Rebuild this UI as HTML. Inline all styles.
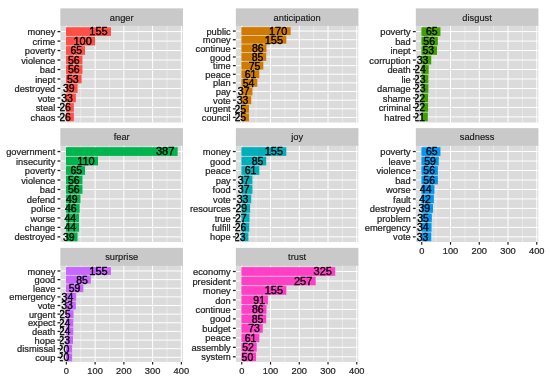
<!DOCTYPE html>
<html><head><meta charset="utf-8"><title>sentiment</title>
<style>html,body{margin:0;padding:0;background:#fff}svg{display:block}text{font-family:"Liberation Sans",Arial,sans-serif}.yl{font-size:9.3px;fill:#262626;stroke:#262626;stroke-width:0.24px;text-anchor:end}.xl{font-size:9.3px;fill:#262626;stroke:#262626;stroke-width:0.24px;text-anchor:middle}.st{font-size:9.3px;fill:#1a1a1a;stroke:#1a1a1a;stroke-width:0.16px;text-anchor:middle}.v{font-size:11px;fill:#000;stroke:#000;stroke-width:0.36px;text-anchor:end}.w{font-size:10.5px}</style></head><body>
<svg width="550" height="377" viewBox="0 0 550 377">
<rect width="550" height="377" fill="#fff"/>
<g>
<rect x="60.5" y="8.5" width="122.4" height="114.00" fill="#DBDBDB"/>
<rect x="60.5" y="8.5" width="122.4" height="17.35" fill="#C9C9C9"/>
<line x1="80.74" x2="80.74" y1="25.85" y2="122.5" stroke="#ebebeb" stroke-width="0.9"/>
<line x1="109.49" x2="109.49" y1="25.85" y2="122.5" stroke="#ebebeb" stroke-width="0.9"/>
<line x1="138.25" x2="138.25" y1="25.85" y2="122.5" stroke="#ebebeb" stroke-width="0.9"/>
<line x1="167.00" x2="167.00" y1="25.85" y2="122.5" stroke="#ebebeb" stroke-width="0.9"/>
<line x1="66.36" x2="66.36" y1="25.85" y2="122.5" stroke="#fff" stroke-width="1"/>
<line x1="95.12" x2="95.12" y1="25.85" y2="122.5" stroke="#fff" stroke-width="1"/>
<line x1="123.87" x2="123.87" y1="25.85" y2="122.5" stroke="#fff" stroke-width="1"/>
<line x1="152.62" x2="152.62" y1="25.85" y2="122.5" stroke="#fff" stroke-width="1"/>
<line x1="181.37" x2="181.37" y1="25.85" y2="122.5" stroke="#fff" stroke-width="1"/>
<line x1="60.5" x2="182.9" y1="31.59" y2="31.59" stroke="#fff" stroke-width="1"/>
<line x1="60.5" x2="182.9" y1="41.07" y2="41.07" stroke="#fff" stroke-width="1"/>
<line x1="60.5" x2="182.9" y1="50.55" y2="50.55" stroke="#fff" stroke-width="1"/>
<line x1="60.5" x2="182.9" y1="60.03" y2="60.03" stroke="#fff" stroke-width="1"/>
<line x1="60.5" x2="182.9" y1="69.51" y2="69.51" stroke="#fff" stroke-width="1"/>
<line x1="60.5" x2="182.9" y1="78.99" y2="78.99" stroke="#fff" stroke-width="1"/>
<line x1="60.5" x2="182.9" y1="88.47" y2="88.47" stroke="#fff" stroke-width="1"/>
<line x1="60.5" x2="182.9" y1="97.95" y2="97.95" stroke="#fff" stroke-width="1"/>
<line x1="60.5" x2="182.9" y1="107.43" y2="107.43" stroke="#fff" stroke-width="1"/>
<line x1="60.5" x2="182.9" y1="116.91" y2="116.91" stroke="#fff" stroke-width="1"/>
<rect x="65.96" y="27.24" width="44.97" height="8.70" fill="#FF5048"/>
<line x1="57.50" x2="60.30" y1="31.59" y2="31.59" stroke="#222" stroke-width="1.3"/>
<text class="yl" transform="translate(55.30 35.19) scale(1 1.03)">money</text>
<rect x="65.96" y="36.72" width="29.15" height="8.70" fill="#FF5048"/>
<line x1="57.50" x2="60.30" y1="41.07" y2="41.07" stroke="#222" stroke-width="1.3"/>
<text class="yl" transform="translate(55.30 44.67) scale(1 1.03)">crime</text>
<rect x="65.96" y="46.20" width="19.09" height="8.70" fill="#FF5048"/>
<line x1="57.50" x2="60.30" y1="50.55" y2="50.55" stroke="#222" stroke-width="1.3"/>
<text class="yl" transform="translate(55.30 54.15) scale(1 1.03)">poverty</text>
<rect x="65.96" y="55.68" width="16.50" height="8.70" fill="#FF5048"/>
<line x1="57.50" x2="60.30" y1="60.03" y2="60.03" stroke="#222" stroke-width="1.3"/>
<text class="yl" transform="translate(55.30 63.63) scale(1 1.03)">violence</text>
<rect x="65.96" y="65.16" width="16.50" height="8.70" fill="#FF5048"/>
<line x1="57.50" x2="60.30" y1="69.51" y2="69.51" stroke="#222" stroke-width="1.3"/>
<text class="yl" transform="translate(55.30 73.11) scale(1 1.03)">bad</text>
<rect x="65.96" y="74.64" width="15.64" height="8.70" fill="#FF5048"/>
<line x1="57.50" x2="60.30" y1="78.99" y2="78.99" stroke="#222" stroke-width="1.3"/>
<text class="yl" transform="translate(55.30 82.59) scale(1 1.03)">inept</text>
<rect x="65.96" y="84.12" width="11.61" height="8.70" fill="#FF5048"/>
<line x1="57.50" x2="60.30" y1="88.47" y2="88.47" stroke="#222" stroke-width="1.3"/>
<text class="yl" transform="translate(55.30 92.07) scale(1 1.03)">destroyed</text>
<rect x="65.96" y="93.60" width="9.89" height="8.70" fill="#FF5048"/>
<line x1="57.50" x2="60.30" y1="97.95" y2="97.95" stroke="#222" stroke-width="1.3"/>
<text class="yl" transform="translate(55.30 101.55) scale(1 1.03)">vote</text>
<rect x="65.96" y="103.08" width="7.88" height="8.70" fill="#FF5048"/>
<line x1="57.50" x2="60.30" y1="107.43" y2="107.43" stroke="#222" stroke-width="1.3"/>
<text class="yl" transform="translate(55.30 111.03) scale(1 1.03)">steal</text>
<rect x="65.96" y="112.56" width="7.88" height="8.70" fill="#FF5048"/>
<line x1="57.50" x2="60.30" y1="116.91" y2="116.91" stroke="#222" stroke-width="1.3"/>
<text class="yl" transform="translate(55.30 120.51) scale(1 1.03)">chaos</text>
<clipPath id="c0"><rect x="59.80" y="25.85" width="123.10" height="96.65"/></clipPath><g clip-path="url(#c0)">
<text class="v" transform="translate(107.63 35.49) scale(1 1.02)">155</text>
<text class="v" transform="translate(91.82 44.97) scale(1 1.02)">100</text>
<text class="v w" transform="translate(82.15 54.45) scale(1 1.06)">65</text>
<text class="v w" transform="translate(79.57 63.93) scale(1 1.06)">56</text>
<text class="v w" transform="translate(79.57 73.41) scale(1 1.06)">56</text>
<text class="v w" transform="translate(78.70 82.89) scale(1 1.06)">53</text>
<text class="v w" transform="translate(74.68 92.37) scale(1 1.06)">39</text>
<text class="v w" transform="translate(72.95 101.85) scale(1 1.06)">33</text>
<text class="v w" transform="translate(70.94 111.33) scale(1 1.06)">26</text>
<text class="v w" transform="translate(70.94 120.81) scale(1 1.06)">26</text>
</g>
<text class="st" transform="translate(121.70 20.57) scale(1 1.03)">anger</text>
</g>
<g>
<rect x="235.9" y="8.5" width="122.4" height="114.00" fill="#DBDBDB"/>
<rect x="235.9" y="8.5" width="122.4" height="17.35" fill="#C9C9C9"/>
<line x1="256.14" x2="256.14" y1="25.85" y2="122.5" stroke="#ebebeb" stroke-width="0.9"/>
<line x1="284.89" x2="284.89" y1="25.85" y2="122.5" stroke="#ebebeb" stroke-width="0.9"/>
<line x1="313.65" x2="313.65" y1="25.85" y2="122.5" stroke="#ebebeb" stroke-width="0.9"/>
<line x1="342.40" x2="342.40" y1="25.85" y2="122.5" stroke="#ebebeb" stroke-width="0.9"/>
<line x1="241.76" x2="241.76" y1="25.85" y2="122.5" stroke="#fff" stroke-width="1"/>
<line x1="270.52" x2="270.52" y1="25.85" y2="122.5" stroke="#fff" stroke-width="1"/>
<line x1="299.27" x2="299.27" y1="25.85" y2="122.5" stroke="#fff" stroke-width="1"/>
<line x1="328.02" x2="328.02" y1="25.85" y2="122.5" stroke="#fff" stroke-width="1"/>
<line x1="356.77" x2="356.77" y1="25.85" y2="122.5" stroke="#fff" stroke-width="1"/>
<line x1="235.9" x2="358.3" y1="31.08" y2="31.08" stroke="#fff" stroke-width="1"/>
<line x1="235.9" x2="358.3" y1="39.71" y2="39.71" stroke="#fff" stroke-width="1"/>
<line x1="235.9" x2="358.3" y1="48.35" y2="48.35" stroke="#fff" stroke-width="1"/>
<line x1="235.9" x2="358.3" y1="56.98" y2="56.98" stroke="#fff" stroke-width="1"/>
<line x1="235.9" x2="358.3" y1="65.62" y2="65.62" stroke="#fff" stroke-width="1"/>
<line x1="235.9" x2="358.3" y1="74.25" y2="74.25" stroke="#fff" stroke-width="1"/>
<line x1="235.9" x2="358.3" y1="82.88" y2="82.88" stroke="#fff" stroke-width="1"/>
<line x1="235.9" x2="358.3" y1="91.52" y2="91.52" stroke="#fff" stroke-width="1"/>
<line x1="235.9" x2="358.3" y1="100.15" y2="100.15" stroke="#fff" stroke-width="1"/>
<line x1="235.9" x2="358.3" y1="108.79" y2="108.79" stroke="#fff" stroke-width="1"/>
<line x1="235.9" x2="358.3" y1="117.42" y2="117.42" stroke="#fff" stroke-width="1"/>
<rect x="241.36" y="27.13" width="49.28" height="7.90" fill="#D07A00"/>
<line x1="232.90" x2="235.70" y1="31.08" y2="31.08" stroke="#222" stroke-width="1.3"/>
<text class="yl" transform="translate(230.70 34.68) scale(1 1.03)">public</text>
<rect x="241.36" y="35.76" width="44.97" height="7.90" fill="#D07A00"/>
<line x1="232.90" x2="235.70" y1="39.71" y2="39.71" stroke="#222" stroke-width="1.3"/>
<text class="yl" transform="translate(230.70 43.31) scale(1 1.03)">money</text>
<rect x="241.36" y="44.40" width="25.13" height="7.90" fill="#D07A00"/>
<line x1="232.90" x2="235.70" y1="48.35" y2="48.35" stroke="#222" stroke-width="1.3"/>
<text class="yl" transform="translate(230.70 51.95) scale(1 1.03)">continue</text>
<rect x="241.36" y="53.03" width="24.84" height="7.90" fill="#D07A00"/>
<line x1="232.90" x2="235.70" y1="56.98" y2="56.98" stroke="#222" stroke-width="1.3"/>
<text class="yl" transform="translate(230.70 60.58) scale(1 1.03)">good</text>
<rect x="241.36" y="61.67" width="21.96" height="7.90" fill="#D07A00"/>
<line x1="232.90" x2="235.70" y1="65.62" y2="65.62" stroke="#222" stroke-width="1.3"/>
<text class="yl" transform="translate(230.70 69.22) scale(1 1.03)">time</text>
<rect x="241.36" y="70.30" width="17.94" height="7.90" fill="#D07A00"/>
<line x1="232.90" x2="235.70" y1="74.25" y2="74.25" stroke="#222" stroke-width="1.3"/>
<text class="yl" transform="translate(230.70 77.85) scale(1 1.03)">peace</text>
<rect x="241.36" y="78.93" width="15.93" height="7.90" fill="#D07A00"/>
<line x1="232.90" x2="235.70" y1="82.88" y2="82.88" stroke="#222" stroke-width="1.3"/>
<text class="yl" transform="translate(230.70 86.48) scale(1 1.03)">plan</text>
<rect x="241.36" y="87.57" width="11.04" height="7.90" fill="#D07A00"/>
<line x1="232.90" x2="235.70" y1="91.52" y2="91.52" stroke="#222" stroke-width="1.3"/>
<text class="yl" transform="translate(230.70 95.12) scale(1 1.03)">pay</text>
<rect x="241.36" y="96.20" width="9.89" height="7.90" fill="#D07A00"/>
<line x1="232.90" x2="235.70" y1="100.15" y2="100.15" stroke="#222" stroke-width="1.3"/>
<text class="yl" transform="translate(230.70 103.75) scale(1 1.03)">vote</text>
<rect x="241.36" y="104.84" width="7.59" height="7.90" fill="#D07A00"/>
<line x1="232.90" x2="235.70" y1="108.79" y2="108.79" stroke="#222" stroke-width="1.3"/>
<text class="yl" transform="translate(230.70 112.39) scale(1 1.03)">urgent</text>
<rect x="241.36" y="113.47" width="7.59" height="7.90" fill="#D07A00"/>
<line x1="232.90" x2="235.70" y1="117.42" y2="117.42" stroke="#222" stroke-width="1.3"/>
<text class="yl" transform="translate(230.70 121.02) scale(1 1.03)">council</text>
<clipPath id="c1"><rect x="235.20" y="25.85" width="123.10" height="96.65"/></clipPath><g clip-path="url(#c1)">
<text class="v" transform="translate(287.34 34.98) scale(1 1.02)">170</text>
<text class="v" transform="translate(283.03 43.61) scale(1 1.02)">155</text>
<text class="v w" transform="translate(263.59 52.25) scale(1 1.06)">86</text>
<text class="v w" transform="translate(263.30 60.88) scale(1 1.06)">85</text>
<text class="v w" transform="translate(260.43 69.52) scale(1 1.06)">75</text>
<text class="v w" transform="translate(256.40 78.15) scale(1 1.06)">61</text>
<text class="v w" transform="translate(254.39 86.78) scale(1 1.06)">54</text>
<text class="v w" transform="translate(249.50 95.42) scale(1 1.06)">37</text>
<text class="v w" transform="translate(248.35 104.05) scale(1 1.06)">33</text>
<text class="v w" transform="translate(246.05 112.69) scale(1 1.06)">25</text>
<text class="v w" transform="translate(246.05 121.32) scale(1 1.06)">25</text>
</g>
<text class="st" transform="translate(297.10 20.57) scale(1 1.03)">anticipation</text>
</g>
<g>
<rect x="415.9" y="8.5" width="122.4" height="114.00" fill="#DBDBDB"/>
<rect x="415.9" y="8.5" width="122.4" height="17.35" fill="#C9C9C9"/>
<line x1="436.14" x2="436.14" y1="25.85" y2="122.5" stroke="#ebebeb" stroke-width="0.9"/>
<line x1="464.89" x2="464.89" y1="25.85" y2="122.5" stroke="#ebebeb" stroke-width="0.9"/>
<line x1="493.65" x2="493.65" y1="25.85" y2="122.5" stroke="#ebebeb" stroke-width="0.9"/>
<line x1="522.40" x2="522.40" y1="25.85" y2="122.5" stroke="#ebebeb" stroke-width="0.9"/>
<line x1="421.76" x2="421.76" y1="25.85" y2="122.5" stroke="#fff" stroke-width="1"/>
<line x1="450.52" x2="450.52" y1="25.85" y2="122.5" stroke="#fff" stroke-width="1"/>
<line x1="479.27" x2="479.27" y1="25.85" y2="122.5" stroke="#fff" stroke-width="1"/>
<line x1="508.02" x2="508.02" y1="25.85" y2="122.5" stroke="#fff" stroke-width="1"/>
<line x1="536.77" x2="536.77" y1="25.85" y2="122.5" stroke="#fff" stroke-width="1"/>
<line x1="415.9" x2="538.3" y1="31.59" y2="31.59" stroke="#fff" stroke-width="1"/>
<line x1="415.9" x2="538.3" y1="41.07" y2="41.07" stroke="#fff" stroke-width="1"/>
<line x1="415.9" x2="538.3" y1="50.55" y2="50.55" stroke="#fff" stroke-width="1"/>
<line x1="415.9" x2="538.3" y1="60.03" y2="60.03" stroke="#fff" stroke-width="1"/>
<line x1="415.9" x2="538.3" y1="69.51" y2="69.51" stroke="#fff" stroke-width="1"/>
<line x1="415.9" x2="538.3" y1="78.99" y2="78.99" stroke="#fff" stroke-width="1"/>
<line x1="415.9" x2="538.3" y1="88.47" y2="88.47" stroke="#fff" stroke-width="1"/>
<line x1="415.9" x2="538.3" y1="97.95" y2="97.95" stroke="#fff" stroke-width="1"/>
<line x1="415.9" x2="538.3" y1="107.43" y2="107.43" stroke="#fff" stroke-width="1"/>
<line x1="415.9" x2="538.3" y1="116.91" y2="116.91" stroke="#fff" stroke-width="1"/>
<rect x="421.36" y="27.24" width="19.09" height="8.70" fill="#3FA000"/>
<line x1="412.90" x2="415.70" y1="31.59" y2="31.59" stroke="#222" stroke-width="1.3"/>
<text class="yl" transform="translate(410.70 35.19) scale(1 1.03)">poverty</text>
<rect x="421.36" y="36.72" width="16.50" height="8.70" fill="#3FA000"/>
<line x1="412.90" x2="415.70" y1="41.07" y2="41.07" stroke="#222" stroke-width="1.3"/>
<text class="yl" transform="translate(410.70 44.67) scale(1 1.03)">bad</text>
<rect x="421.36" y="46.20" width="15.64" height="8.70" fill="#3FA000"/>
<line x1="412.90" x2="415.70" y1="50.55" y2="50.55" stroke="#222" stroke-width="1.3"/>
<text class="yl" transform="translate(410.70 54.15) scale(1 1.03)">inept</text>
<rect x="421.36" y="55.68" width="9.89" height="8.70" fill="#3FA000"/>
<line x1="412.90" x2="415.70" y1="60.03" y2="60.03" stroke="#222" stroke-width="1.3"/>
<text class="yl" transform="translate(410.70 63.63) scale(1 1.03)">corruption</text>
<rect x="421.36" y="65.16" width="7.30" height="8.70" fill="#3FA000"/>
<line x1="412.90" x2="415.70" y1="69.51" y2="69.51" stroke="#222" stroke-width="1.3"/>
<text class="yl" transform="translate(410.70 73.11) scale(1 1.03)">death</text>
<rect x="421.36" y="74.64" width="7.01" height="8.70" fill="#3FA000"/>
<line x1="412.90" x2="415.70" y1="78.99" y2="78.99" stroke="#222" stroke-width="1.3"/>
<text class="yl" transform="translate(410.70 82.59) scale(1 1.03)">lie</text>
<rect x="421.36" y="84.12" width="7.01" height="8.70" fill="#3FA000"/>
<line x1="412.90" x2="415.70" y1="88.47" y2="88.47" stroke="#222" stroke-width="1.3"/>
<text class="yl" transform="translate(410.70 92.07) scale(1 1.03)">damage</text>
<rect x="421.36" y="93.60" width="6.73" height="8.70" fill="#3FA000"/>
<line x1="412.90" x2="415.70" y1="97.95" y2="97.95" stroke="#222" stroke-width="1.3"/>
<text class="yl" transform="translate(410.70 101.55) scale(1 1.03)">shame</text>
<rect x="421.36" y="103.08" width="6.73" height="8.70" fill="#3FA000"/>
<line x1="412.90" x2="415.70" y1="107.43" y2="107.43" stroke="#222" stroke-width="1.3"/>
<text class="yl" transform="translate(410.70 111.03) scale(1 1.03)">criminal</text>
<rect x="421.36" y="112.56" width="6.44" height="8.70" fill="#3FA000"/>
<line x1="412.90" x2="415.70" y1="116.91" y2="116.91" stroke="#222" stroke-width="1.3"/>
<text class="yl" transform="translate(410.70 120.51) scale(1 1.03)">hatred</text>
<clipPath id="c2"><rect x="415.20" y="25.85" width="123.10" height="96.65"/></clipPath><g clip-path="url(#c2)">
<text class="v w" transform="translate(437.55 35.49) scale(1 1.06)">65</text>
<text class="v w" transform="translate(434.97 44.97) scale(1 1.06)">56</text>
<text class="v w" transform="translate(434.10 54.45) scale(1 1.06)">53</text>
<text class="v w" transform="translate(428.35 63.93) scale(1 1.06)">33</text>
<text class="v w" transform="translate(425.76 73.41) scale(1 1.06)">24</text>
<text class="v w" transform="translate(425.48 82.89) scale(1 1.06)">23</text>
<text class="v w" transform="translate(425.48 92.37) scale(1 1.06)">23</text>
<text class="v w" transform="translate(425.19 101.85) scale(1 1.06)">22</text>
<text class="v w" transform="translate(425.19 111.33) scale(1 1.06)">22</text>
<text class="v w" transform="translate(424.90 120.81) scale(1 1.06)">21</text>
</g>
<text class="st" transform="translate(477.10 20.57) scale(1 1.03)">disgust</text>
</g>
<g>
<rect x="60.5" y="128.2" width="122.4" height="113.80" fill="#DBDBDB"/>
<rect x="60.5" y="128.2" width="122.4" height="17.60" fill="#C9C9C9"/>
<line x1="80.74" x2="80.74" y1="145.8" y2="242.0" stroke="#ebebeb" stroke-width="0.9"/>
<line x1="109.49" x2="109.49" y1="145.8" y2="242.0" stroke="#ebebeb" stroke-width="0.9"/>
<line x1="138.25" x2="138.25" y1="145.8" y2="242.0" stroke="#ebebeb" stroke-width="0.9"/>
<line x1="167.00" x2="167.00" y1="145.8" y2="242.0" stroke="#ebebeb" stroke-width="0.9"/>
<line x1="66.36" x2="66.36" y1="145.8" y2="242.0" stroke="#fff" stroke-width="1"/>
<line x1="95.12" x2="95.12" y1="145.8" y2="242.0" stroke="#fff" stroke-width="1"/>
<line x1="123.87" x2="123.87" y1="145.8" y2="242.0" stroke="#fff" stroke-width="1"/>
<line x1="152.62" x2="152.62" y1="145.8" y2="242.0" stroke="#fff" stroke-width="1"/>
<line x1="181.37" x2="181.37" y1="145.8" y2="242.0" stroke="#fff" stroke-width="1"/>
<line x1="60.5" x2="182.9" y1="151.54" y2="151.54" stroke="#fff" stroke-width="1"/>
<line x1="60.5" x2="182.9" y1="161.02" y2="161.02" stroke="#fff" stroke-width="1"/>
<line x1="60.5" x2="182.9" y1="170.50" y2="170.50" stroke="#fff" stroke-width="1"/>
<line x1="60.5" x2="182.9" y1="179.98" y2="179.98" stroke="#fff" stroke-width="1"/>
<line x1="60.5" x2="182.9" y1="189.46" y2="189.46" stroke="#fff" stroke-width="1"/>
<line x1="60.5" x2="182.9" y1="198.94" y2="198.94" stroke="#fff" stroke-width="1"/>
<line x1="60.5" x2="182.9" y1="208.42" y2="208.42" stroke="#fff" stroke-width="1"/>
<line x1="60.5" x2="182.9" y1="217.90" y2="217.90" stroke="#fff" stroke-width="1"/>
<line x1="60.5" x2="182.9" y1="227.38" y2="227.38" stroke="#fff" stroke-width="1"/>
<line x1="60.5" x2="182.9" y1="236.86" y2="236.86" stroke="#fff" stroke-width="1"/>
<rect x="65.96" y="147.19" width="111.67" height="8.70" fill="#00B44E"/>
<line x1="57.50" x2="60.30" y1="151.54" y2="151.54" stroke="#222" stroke-width="1.3"/>
<text class="yl" transform="translate(55.30 155.14) scale(1 1.03)">government</text>
<rect x="65.96" y="156.67" width="32.03" height="8.70" fill="#00B44E"/>
<line x1="57.50" x2="60.30" y1="161.02" y2="161.02" stroke="#222" stroke-width="1.3"/>
<text class="yl" transform="translate(55.30 164.62) scale(1 1.03)">insecurity</text>
<rect x="65.96" y="166.15" width="19.09" height="8.70" fill="#00B44E"/>
<line x1="57.50" x2="60.30" y1="170.50" y2="170.50" stroke="#222" stroke-width="1.3"/>
<text class="yl" transform="translate(55.30 174.10) scale(1 1.03)">poverty</text>
<rect x="65.96" y="175.63" width="16.50" height="8.70" fill="#00B44E"/>
<line x1="57.50" x2="60.30" y1="179.98" y2="179.98" stroke="#222" stroke-width="1.3"/>
<text class="yl" transform="translate(55.30 183.58) scale(1 1.03)">violence</text>
<rect x="65.96" y="185.11" width="16.50" height="8.70" fill="#00B44E"/>
<line x1="57.50" x2="60.30" y1="189.46" y2="189.46" stroke="#222" stroke-width="1.3"/>
<text class="yl" transform="translate(55.30 193.06) scale(1 1.03)">bad</text>
<rect x="65.96" y="194.59" width="14.49" height="8.70" fill="#00B44E"/>
<line x1="57.50" x2="60.30" y1="198.94" y2="198.94" stroke="#222" stroke-width="1.3"/>
<text class="yl" transform="translate(55.30 202.54) scale(1 1.03)">defend</text>
<rect x="65.96" y="204.07" width="13.63" height="8.70" fill="#00B44E"/>
<line x1="57.50" x2="60.30" y1="208.42" y2="208.42" stroke="#222" stroke-width="1.3"/>
<text class="yl" transform="translate(55.30 212.02) scale(1 1.03)">police</text>
<rect x="65.96" y="213.55" width="13.05" height="8.70" fill="#00B44E"/>
<line x1="57.50" x2="60.30" y1="217.90" y2="217.90" stroke="#222" stroke-width="1.3"/>
<text class="yl" transform="translate(55.30 221.50) scale(1 1.03)">worse</text>
<rect x="65.96" y="223.03" width="13.05" height="8.70" fill="#00B44E"/>
<line x1="57.50" x2="60.30" y1="227.38" y2="227.38" stroke="#222" stroke-width="1.3"/>
<text class="yl" transform="translate(55.30 230.98) scale(1 1.03)">change</text>
<rect x="65.96" y="232.51" width="11.61" height="8.70" fill="#00B44E"/>
<line x1="57.50" x2="60.30" y1="236.86" y2="236.86" stroke="#222" stroke-width="1.3"/>
<text class="yl" transform="translate(55.30 240.46) scale(1 1.03)">destroyed</text>
<clipPath id="c3"><rect x="59.80" y="145.8" width="123.10" height="96.20"/></clipPath><g clip-path="url(#c3)">
<text class="v" transform="translate(174.34 155.44) scale(1 1.02)">387</text>
<text class="v" transform="translate(94.69 164.92) scale(1 1.02)">110</text>
<text class="v w" transform="translate(82.15 174.40) scale(1 1.06)">65</text>
<text class="v w" transform="translate(79.57 183.88) scale(1 1.06)">56</text>
<text class="v w" transform="translate(79.57 193.36) scale(1 1.06)">56</text>
<text class="v w" transform="translate(77.55 202.84) scale(1 1.06)">49</text>
<text class="v w" transform="translate(76.69 212.32) scale(1 1.06)">46</text>
<text class="v w" transform="translate(76.11 221.80) scale(1 1.06)">44</text>
<text class="v w" transform="translate(76.11 231.28) scale(1 1.06)">44</text>
<text class="v w" transform="translate(74.68 240.76) scale(1 1.06)">39</text>
</g>
<text class="st" transform="translate(121.70 140.40) scale(1 1.03)">fear</text>
</g>
<g>
<rect x="235.9" y="128.2" width="122.4" height="113.80" fill="#DBDBDB"/>
<rect x="235.9" y="128.2" width="122.4" height="17.60" fill="#C9C9C9"/>
<line x1="256.14" x2="256.14" y1="145.8" y2="242.0" stroke="#ebebeb" stroke-width="0.9"/>
<line x1="284.89" x2="284.89" y1="145.8" y2="242.0" stroke="#ebebeb" stroke-width="0.9"/>
<line x1="313.65" x2="313.65" y1="145.8" y2="242.0" stroke="#ebebeb" stroke-width="0.9"/>
<line x1="342.40" x2="342.40" y1="145.8" y2="242.0" stroke="#ebebeb" stroke-width="0.9"/>
<line x1="241.76" x2="241.76" y1="145.8" y2="242.0" stroke="#fff" stroke-width="1"/>
<line x1="270.52" x2="270.52" y1="145.8" y2="242.0" stroke="#fff" stroke-width="1"/>
<line x1="299.27" x2="299.27" y1="145.8" y2="242.0" stroke="#fff" stroke-width="1"/>
<line x1="328.02" x2="328.02" y1="145.8" y2="242.0" stroke="#fff" stroke-width="1"/>
<line x1="356.77" x2="356.77" y1="145.8" y2="242.0" stroke="#fff" stroke-width="1"/>
<line x1="235.9" x2="358.3" y1="151.54" y2="151.54" stroke="#fff" stroke-width="1"/>
<line x1="235.9" x2="358.3" y1="161.02" y2="161.02" stroke="#fff" stroke-width="1"/>
<line x1="235.9" x2="358.3" y1="170.50" y2="170.50" stroke="#fff" stroke-width="1"/>
<line x1="235.9" x2="358.3" y1="179.98" y2="179.98" stroke="#fff" stroke-width="1"/>
<line x1="235.9" x2="358.3" y1="189.46" y2="189.46" stroke="#fff" stroke-width="1"/>
<line x1="235.9" x2="358.3" y1="198.94" y2="198.94" stroke="#fff" stroke-width="1"/>
<line x1="235.9" x2="358.3" y1="208.42" y2="208.42" stroke="#fff" stroke-width="1"/>
<line x1="235.9" x2="358.3" y1="217.90" y2="217.90" stroke="#fff" stroke-width="1"/>
<line x1="235.9" x2="358.3" y1="227.38" y2="227.38" stroke="#fff" stroke-width="1"/>
<line x1="235.9" x2="358.3" y1="236.86" y2="236.86" stroke="#fff" stroke-width="1"/>
<rect x="241.36" y="147.19" width="44.97" height="8.70" fill="#00AFB9"/>
<line x1="232.90" x2="235.70" y1="151.54" y2="151.54" stroke="#222" stroke-width="1.3"/>
<text class="yl" transform="translate(230.70 155.14) scale(1 1.03)">money</text>
<rect x="241.36" y="156.67" width="24.84" height="8.70" fill="#00AFB9"/>
<line x1="232.90" x2="235.70" y1="161.02" y2="161.02" stroke="#222" stroke-width="1.3"/>
<text class="yl" transform="translate(230.70 164.62) scale(1 1.03)">good</text>
<rect x="241.36" y="166.15" width="17.94" height="8.70" fill="#00AFB9"/>
<line x1="232.90" x2="235.70" y1="170.50" y2="170.50" stroke="#222" stroke-width="1.3"/>
<text class="yl" transform="translate(230.70 174.10) scale(1 1.03)">peace</text>
<rect x="241.36" y="175.63" width="11.04" height="8.70" fill="#00AFB9"/>
<line x1="232.90" x2="235.70" y1="179.98" y2="179.98" stroke="#222" stroke-width="1.3"/>
<text class="yl" transform="translate(230.70 183.58) scale(1 1.03)">pay</text>
<rect x="241.36" y="185.11" width="11.04" height="8.70" fill="#00AFB9"/>
<line x1="232.90" x2="235.70" y1="189.46" y2="189.46" stroke="#222" stroke-width="1.3"/>
<text class="yl" transform="translate(230.70 193.06) scale(1 1.03)">food</text>
<rect x="241.36" y="194.59" width="9.89" height="8.70" fill="#00AFB9"/>
<line x1="232.90" x2="235.70" y1="198.94" y2="198.94" stroke="#222" stroke-width="1.3"/>
<text class="yl" transform="translate(230.70 202.54) scale(1 1.03)">vote</text>
<rect x="241.36" y="204.07" width="8.74" height="8.70" fill="#00AFB9"/>
<line x1="232.90" x2="235.70" y1="208.42" y2="208.42" stroke="#222" stroke-width="1.3"/>
<text class="yl" transform="translate(230.70 212.02) scale(1 1.03)">resources</text>
<rect x="241.36" y="213.55" width="8.16" height="8.70" fill="#00AFB9"/>
<line x1="232.90" x2="235.70" y1="217.90" y2="217.90" stroke="#222" stroke-width="1.3"/>
<text class="yl" transform="translate(230.70 221.50) scale(1 1.03)">true</text>
<rect x="241.36" y="223.03" width="7.88" height="8.70" fill="#00AFB9"/>
<line x1="232.90" x2="235.70" y1="227.38" y2="227.38" stroke="#222" stroke-width="1.3"/>
<text class="yl" transform="translate(230.70 230.98) scale(1 1.03)">fulfill</text>
<rect x="241.36" y="232.51" width="7.01" height="8.70" fill="#00AFB9"/>
<line x1="232.90" x2="235.70" y1="236.86" y2="236.86" stroke="#222" stroke-width="1.3"/>
<text class="yl" transform="translate(230.70 240.46) scale(1 1.03)">hope</text>
<clipPath id="c4"><rect x="235.20" y="145.8" width="123.10" height="96.20"/></clipPath><g clip-path="url(#c4)">
<text class="v" transform="translate(283.03 155.44) scale(1 1.02)">155</text>
<text class="v w" transform="translate(263.30 164.92) scale(1 1.06)">85</text>
<text class="v w" transform="translate(256.40 174.40) scale(1 1.06)">61</text>
<text class="v w" transform="translate(249.50 183.88) scale(1 1.06)">37</text>
<text class="v w" transform="translate(249.50 193.36) scale(1 1.06)">37</text>
<text class="v w" transform="translate(248.35 202.84) scale(1 1.06)">33</text>
<text class="v w" transform="translate(247.20 212.32) scale(1 1.06)">29</text>
<text class="v w" transform="translate(246.63 221.80) scale(1 1.06)">27</text>
<text class="v w" transform="translate(246.34 231.28) scale(1 1.06)">26</text>
<text class="v w" transform="translate(245.48 240.76) scale(1 1.06)">23</text>
</g>
<text class="st" transform="translate(297.10 140.40) scale(1 1.03)">joy</text>
</g>
<g>
<rect x="415.9" y="128.2" width="122.4" height="113.80" fill="#DBDBDB"/>
<rect x="415.9" y="128.2" width="122.4" height="17.60" fill="#C9C9C9"/>
<line x1="436.14" x2="436.14" y1="145.8" y2="242.0" stroke="#ebebeb" stroke-width="0.9"/>
<line x1="464.89" x2="464.89" y1="145.8" y2="242.0" stroke="#ebebeb" stroke-width="0.9"/>
<line x1="493.65" x2="493.65" y1="145.8" y2="242.0" stroke="#ebebeb" stroke-width="0.9"/>
<line x1="522.40" x2="522.40" y1="145.8" y2="242.0" stroke="#ebebeb" stroke-width="0.9"/>
<line x1="421.76" x2="421.76" y1="145.8" y2="242.0" stroke="#fff" stroke-width="1"/>
<line x1="450.52" x2="450.52" y1="145.8" y2="242.0" stroke="#fff" stroke-width="1"/>
<line x1="479.27" x2="479.27" y1="145.8" y2="242.0" stroke="#fff" stroke-width="1"/>
<line x1="508.02" x2="508.02" y1="145.8" y2="242.0" stroke="#fff" stroke-width="1"/>
<line x1="536.77" x2="536.77" y1="145.8" y2="242.0" stroke="#fff" stroke-width="1"/>
<line x1="415.9" x2="538.3" y1="151.54" y2="151.54" stroke="#fff" stroke-width="1"/>
<line x1="415.9" x2="538.3" y1="161.02" y2="161.02" stroke="#fff" stroke-width="1"/>
<line x1="415.9" x2="538.3" y1="170.50" y2="170.50" stroke="#fff" stroke-width="1"/>
<line x1="415.9" x2="538.3" y1="179.98" y2="179.98" stroke="#fff" stroke-width="1"/>
<line x1="415.9" x2="538.3" y1="189.46" y2="189.46" stroke="#fff" stroke-width="1"/>
<line x1="415.9" x2="538.3" y1="198.94" y2="198.94" stroke="#fff" stroke-width="1"/>
<line x1="415.9" x2="538.3" y1="208.42" y2="208.42" stroke="#fff" stroke-width="1"/>
<line x1="415.9" x2="538.3" y1="217.90" y2="217.90" stroke="#fff" stroke-width="1"/>
<line x1="415.9" x2="538.3" y1="227.38" y2="227.38" stroke="#fff" stroke-width="1"/>
<line x1="415.9" x2="538.3" y1="236.86" y2="236.86" stroke="#fff" stroke-width="1"/>
<rect x="421.36" y="147.19" width="19.09" height="8.70" fill="#0098F0"/>
<line x1="412.90" x2="415.70" y1="151.54" y2="151.54" stroke="#222" stroke-width="1.3"/>
<text class="yl" transform="translate(410.70 155.14) scale(1 1.03)">poverty</text>
<rect x="421.36" y="156.67" width="17.36" height="8.70" fill="#0098F0"/>
<line x1="412.90" x2="415.70" y1="161.02" y2="161.02" stroke="#222" stroke-width="1.3"/>
<text class="yl" transform="translate(410.70 164.62) scale(1 1.03)">leave</text>
<rect x="421.36" y="166.15" width="16.50" height="8.70" fill="#0098F0"/>
<line x1="412.90" x2="415.70" y1="170.50" y2="170.50" stroke="#222" stroke-width="1.3"/>
<text class="yl" transform="translate(410.70 174.10) scale(1 1.03)">violence</text>
<rect x="421.36" y="175.63" width="16.50" height="8.70" fill="#0098F0"/>
<line x1="412.90" x2="415.70" y1="179.98" y2="179.98" stroke="#222" stroke-width="1.3"/>
<text class="yl" transform="translate(410.70 183.58) scale(1 1.03)">bad</text>
<rect x="421.36" y="185.11" width="13.05" height="8.70" fill="#0098F0"/>
<line x1="412.90" x2="415.70" y1="189.46" y2="189.46" stroke="#222" stroke-width="1.3"/>
<text class="yl" transform="translate(410.70 193.06) scale(1 1.03)">worse</text>
<rect x="421.36" y="194.59" width="12.48" height="8.70" fill="#0098F0"/>
<line x1="412.90" x2="415.70" y1="198.94" y2="198.94" stroke="#222" stroke-width="1.3"/>
<text class="yl" transform="translate(410.70 202.54) scale(1 1.03)">fault</text>
<rect x="421.36" y="204.07" width="11.61" height="8.70" fill="#0098F0"/>
<line x1="412.90" x2="415.70" y1="208.42" y2="208.42" stroke="#222" stroke-width="1.3"/>
<text class="yl" transform="translate(410.70 212.02) scale(1 1.03)">destroyed</text>
<rect x="421.36" y="213.55" width="10.46" height="8.70" fill="#0098F0"/>
<line x1="412.90" x2="415.70" y1="217.90" y2="217.90" stroke="#222" stroke-width="1.3"/>
<text class="yl" transform="translate(410.70 221.50) scale(1 1.03)">problem</text>
<rect x="421.36" y="223.03" width="10.18" height="8.70" fill="#0098F0"/>
<line x1="412.90" x2="415.70" y1="227.38" y2="227.38" stroke="#222" stroke-width="1.3"/>
<text class="yl" transform="translate(410.70 230.98) scale(1 1.03)">emergency</text>
<rect x="421.36" y="232.51" width="9.89" height="8.70" fill="#0098F0"/>
<line x1="412.90" x2="415.70" y1="236.86" y2="236.86" stroke="#222" stroke-width="1.3"/>
<text class="yl" transform="translate(410.70 240.46) scale(1 1.03)">vote</text>
<clipPath id="c5"><rect x="415.20" y="145.8" width="123.10" height="96.20"/></clipPath><g clip-path="url(#c5)">
<text class="v w" transform="translate(437.55 155.44) scale(1 1.06)">65</text>
<text class="v w" transform="translate(435.83 164.92) scale(1 1.06)">59</text>
<text class="v w" transform="translate(434.97 174.40) scale(1 1.06)">56</text>
<text class="v w" transform="translate(434.97 183.88) scale(1 1.06)">56</text>
<text class="v w" transform="translate(431.51 193.36) scale(1 1.06)">44</text>
<text class="v w" transform="translate(430.94 202.84) scale(1 1.06)">42</text>
<text class="v w" transform="translate(430.08 212.32) scale(1 1.06)">39</text>
<text class="v w" transform="translate(428.93 221.80) scale(1 1.06)">35</text>
<text class="v w" transform="translate(428.64 231.28) scale(1 1.06)">34</text>
<text class="v w" transform="translate(428.35 240.76) scale(1 1.06)">33</text>
</g>
<text class="st" transform="translate(477.10 140.40) scale(1 1.03)">sadness</text>
<line x1="421.76" x2="421.76" y1="242.0" y2="244.7" stroke="#222" stroke-width="1.2"/>
<text class="xl" transform="translate(421.76 253.80) scale(1 1.03)">0</text>
<line x1="450.52" x2="450.52" y1="242.0" y2="244.7" stroke="#222" stroke-width="1.2"/>
<text class="xl" transform="translate(450.52 253.80) scale(1 1.03)">100</text>
<line x1="479.27" x2="479.27" y1="242.0" y2="244.7" stroke="#222" stroke-width="1.2"/>
<text class="xl" transform="translate(479.27 253.80) scale(1 1.03)">200</text>
<line x1="508.02" x2="508.02" y1="242.0" y2="244.7" stroke="#222" stroke-width="1.2"/>
<text class="xl" transform="translate(508.02 253.80) scale(1 1.03)">300</text>
<line x1="536.77" x2="536.77" y1="242.0" y2="244.7" stroke="#222" stroke-width="1.2"/>
<text class="xl" transform="translate(536.77 253.80) scale(1 1.03)">400</text>
</g>
<g>
<rect x="60.5" y="247.9" width="122.4" height="114.00" fill="#DBDBDB"/>
<rect x="60.5" y="247.9" width="122.4" height="17.85" fill="#C9C9C9"/>
<line x1="80.74" x2="80.74" y1="265.75" y2="361.9" stroke="#ebebeb" stroke-width="0.9"/>
<line x1="109.49" x2="109.49" y1="265.75" y2="361.9" stroke="#ebebeb" stroke-width="0.9"/>
<line x1="138.25" x2="138.25" y1="265.75" y2="361.9" stroke="#ebebeb" stroke-width="0.9"/>
<line x1="167.00" x2="167.00" y1="265.75" y2="361.9" stroke="#ebebeb" stroke-width="0.9"/>
<line x1="66.36" x2="66.36" y1="265.75" y2="361.9" stroke="#fff" stroke-width="1"/>
<line x1="95.12" x2="95.12" y1="265.75" y2="361.9" stroke="#fff" stroke-width="1"/>
<line x1="123.87" x2="123.87" y1="265.75" y2="361.9" stroke="#fff" stroke-width="1"/>
<line x1="152.62" x2="152.62" y1="265.75" y2="361.9" stroke="#fff" stroke-width="1"/>
<line x1="181.37" x2="181.37" y1="265.75" y2="361.9" stroke="#fff" stroke-width="1"/>
<line x1="60.5" x2="182.9" y1="270.98" y2="270.98" stroke="#fff" stroke-width="1"/>
<line x1="60.5" x2="182.9" y1="279.61" y2="279.61" stroke="#fff" stroke-width="1"/>
<line x1="60.5" x2="182.9" y1="288.25" y2="288.25" stroke="#fff" stroke-width="1"/>
<line x1="60.5" x2="182.9" y1="296.88" y2="296.88" stroke="#fff" stroke-width="1"/>
<line x1="60.5" x2="182.9" y1="305.52" y2="305.52" stroke="#fff" stroke-width="1"/>
<line x1="60.5" x2="182.9" y1="314.15" y2="314.15" stroke="#fff" stroke-width="1"/>
<line x1="60.5" x2="182.9" y1="322.78" y2="322.78" stroke="#fff" stroke-width="1"/>
<line x1="60.5" x2="182.9" y1="331.42" y2="331.42" stroke="#fff" stroke-width="1"/>
<line x1="60.5" x2="182.9" y1="340.05" y2="340.05" stroke="#fff" stroke-width="1"/>
<line x1="60.5" x2="182.9" y1="348.69" y2="348.69" stroke="#fff" stroke-width="1"/>
<line x1="60.5" x2="182.9" y1="357.32" y2="357.32" stroke="#fff" stroke-width="1"/>
<rect x="65.96" y="267.03" width="44.97" height="7.90" fill="#C866FF"/>
<line x1="57.50" x2="60.30" y1="270.98" y2="270.98" stroke="#222" stroke-width="1.3"/>
<text class="yl" transform="translate(55.30 274.58) scale(1 1.03)">money</text>
<rect x="65.96" y="275.66" width="24.84" height="7.90" fill="#C866FF"/>
<line x1="57.50" x2="60.30" y1="279.61" y2="279.61" stroke="#222" stroke-width="1.3"/>
<text class="yl" transform="translate(55.30 283.21) scale(1 1.03)">good</text>
<rect x="65.96" y="284.30" width="17.36" height="7.90" fill="#C866FF"/>
<line x1="57.50" x2="60.30" y1="288.25" y2="288.25" stroke="#222" stroke-width="1.3"/>
<text class="yl" transform="translate(55.30 291.85) scale(1 1.03)">leave</text>
<rect x="65.96" y="292.93" width="10.18" height="7.90" fill="#C866FF"/>
<line x1="57.50" x2="60.30" y1="296.88" y2="296.88" stroke="#222" stroke-width="1.3"/>
<text class="yl" transform="translate(55.30 300.48) scale(1 1.03)">emergency</text>
<rect x="65.96" y="301.57" width="9.89" height="7.90" fill="#C866FF"/>
<line x1="57.50" x2="60.30" y1="305.52" y2="305.52" stroke="#222" stroke-width="1.3"/>
<text class="yl" transform="translate(55.30 309.12) scale(1 1.03)">vote</text>
<rect x="65.96" y="310.20" width="7.59" height="7.90" fill="#C866FF"/>
<line x1="57.50" x2="60.30" y1="314.15" y2="314.15" stroke="#222" stroke-width="1.3"/>
<text class="yl" transform="translate(55.30 317.75) scale(1 1.03)">urgent</text>
<rect x="65.96" y="318.83" width="7.30" height="7.90" fill="#C866FF"/>
<line x1="57.50" x2="60.30" y1="322.78" y2="322.78" stroke="#222" stroke-width="1.3"/>
<text class="yl" transform="translate(55.30 326.38) scale(1 1.03)">expect</text>
<rect x="65.96" y="327.47" width="7.30" height="7.90" fill="#C866FF"/>
<line x1="57.50" x2="60.30" y1="331.42" y2="331.42" stroke="#222" stroke-width="1.3"/>
<text class="yl" transform="translate(55.30 335.02) scale(1 1.03)">death</text>
<rect x="65.96" y="336.10" width="7.01" height="7.90" fill="#C866FF"/>
<line x1="57.50" x2="60.30" y1="340.05" y2="340.05" stroke="#222" stroke-width="1.3"/>
<text class="yl" transform="translate(55.30 343.65) scale(1 1.03)">hope</text>
<rect x="65.96" y="344.74" width="6.15" height="7.90" fill="#C866FF"/>
<line x1="57.50" x2="60.30" y1="348.69" y2="348.69" stroke="#222" stroke-width="1.3"/>
<text class="yl" transform="translate(55.30 352.29) scale(1 1.03)">dismissal</text>
<rect x="65.96" y="353.37" width="6.15" height="7.90" fill="#C866FF"/>
<line x1="57.50" x2="60.30" y1="357.32" y2="357.32" stroke="#222" stroke-width="1.3"/>
<text class="yl" transform="translate(55.30 360.92) scale(1 1.03)">coup</text>
<clipPath id="c6"><rect x="59.80" y="265.75" width="123.10" height="96.15"/></clipPath><g clip-path="url(#c6)">
<text class="v" transform="translate(107.63 274.88) scale(1 1.02)">155</text>
<text class="v w" transform="translate(87.90 283.51) scale(1 1.06)">85</text>
<text class="v w" transform="translate(80.43 292.15) scale(1 1.06)">59</text>
<text class="v w" transform="translate(73.24 300.78) scale(1 1.06)">34</text>
<text class="v w" transform="translate(72.95 309.42) scale(1 1.06)">33</text>
<text class="v w" transform="translate(70.65 318.05) scale(1 1.06)">25</text>
<text class="v w" transform="translate(70.36 326.68) scale(1 1.06)">24</text>
<text class="v w" transform="translate(70.36 335.32) scale(1 1.06)">24</text>
<text class="v w" transform="translate(70.08 343.95) scale(1 1.06)">23</text>
<text class="v w" transform="translate(69.21 352.59) scale(1 1.06)">20</text>
<text class="v w" transform="translate(69.21 361.22) scale(1 1.06)">20</text>
</g>
<text class="st" transform="translate(121.70 260.22) scale(1 1.03)">surprise</text>
<line x1="66.36" x2="66.36" y1="361.9" y2="364.59999999999997" stroke="#222" stroke-width="1.2"/>
<text class="xl" transform="translate(66.36 373.70) scale(1 1.03)">0</text>
<line x1="95.12" x2="95.12" y1="361.9" y2="364.59999999999997" stroke="#222" stroke-width="1.2"/>
<text class="xl" transform="translate(95.12 373.70) scale(1 1.03)">100</text>
<line x1="123.87" x2="123.87" y1="361.9" y2="364.59999999999997" stroke="#222" stroke-width="1.2"/>
<text class="xl" transform="translate(123.87 373.70) scale(1 1.03)">200</text>
<line x1="152.62" x2="152.62" y1="361.9" y2="364.59999999999997" stroke="#222" stroke-width="1.2"/>
<text class="xl" transform="translate(152.62 373.70) scale(1 1.03)">300</text>
<line x1="181.37" x2="181.37" y1="361.9" y2="364.59999999999997" stroke="#222" stroke-width="1.2"/>
<text class="xl" transform="translate(181.37 373.70) scale(1 1.03)">400</text>
</g>
<g>
<rect x="235.9" y="247.9" width="122.4" height="114.00" fill="#DBDBDB"/>
<rect x="235.9" y="247.9" width="122.4" height="17.85" fill="#C9C9C9"/>
<line x1="256.14" x2="256.14" y1="265.75" y2="361.9" stroke="#ebebeb" stroke-width="0.9"/>
<line x1="284.89" x2="284.89" y1="265.75" y2="361.9" stroke="#ebebeb" stroke-width="0.9"/>
<line x1="313.65" x2="313.65" y1="265.75" y2="361.9" stroke="#ebebeb" stroke-width="0.9"/>
<line x1="342.40" x2="342.40" y1="265.75" y2="361.9" stroke="#ebebeb" stroke-width="0.9"/>
<line x1="241.76" x2="241.76" y1="265.75" y2="361.9" stroke="#fff" stroke-width="1"/>
<line x1="270.52" x2="270.52" y1="265.75" y2="361.9" stroke="#fff" stroke-width="1"/>
<line x1="299.27" x2="299.27" y1="265.75" y2="361.9" stroke="#fff" stroke-width="1"/>
<line x1="328.02" x2="328.02" y1="265.75" y2="361.9" stroke="#fff" stroke-width="1"/>
<line x1="356.77" x2="356.77" y1="265.75" y2="361.9" stroke="#fff" stroke-width="1"/>
<line x1="235.9" x2="358.3" y1="271.49" y2="271.49" stroke="#fff" stroke-width="1"/>
<line x1="235.9" x2="358.3" y1="280.97" y2="280.97" stroke="#fff" stroke-width="1"/>
<line x1="235.9" x2="358.3" y1="290.45" y2="290.45" stroke="#fff" stroke-width="1"/>
<line x1="235.9" x2="358.3" y1="299.93" y2="299.93" stroke="#fff" stroke-width="1"/>
<line x1="235.9" x2="358.3" y1="309.41" y2="309.41" stroke="#fff" stroke-width="1"/>
<line x1="235.9" x2="358.3" y1="318.89" y2="318.89" stroke="#fff" stroke-width="1"/>
<line x1="235.9" x2="358.3" y1="328.37" y2="328.37" stroke="#fff" stroke-width="1"/>
<line x1="235.9" x2="358.3" y1="337.85" y2="337.85" stroke="#fff" stroke-width="1"/>
<line x1="235.9" x2="358.3" y1="347.33" y2="347.33" stroke="#fff" stroke-width="1"/>
<line x1="235.9" x2="358.3" y1="356.81" y2="356.81" stroke="#fff" stroke-width="1"/>
<rect x="241.36" y="267.14" width="93.85" height="8.70" fill="#FF3FC6"/>
<line x1="232.90" x2="235.70" y1="271.49" y2="271.49" stroke="#222" stroke-width="1.3"/>
<text class="yl" transform="translate(230.70 275.09) scale(1 1.03)">economy</text>
<rect x="241.36" y="276.62" width="74.29" height="8.70" fill="#FF3FC6"/>
<line x1="232.90" x2="235.70" y1="280.97" y2="280.97" stroke="#222" stroke-width="1.3"/>
<text class="yl" transform="translate(230.70 284.57) scale(1 1.03)">president</text>
<rect x="241.36" y="286.10" width="44.97" height="8.70" fill="#FF3FC6"/>
<line x1="232.90" x2="235.70" y1="290.45" y2="290.45" stroke="#222" stroke-width="1.3"/>
<text class="yl" transform="translate(230.70 294.05) scale(1 1.03)">money</text>
<rect x="241.36" y="295.58" width="26.56" height="8.70" fill="#FF3FC6"/>
<line x1="232.90" x2="235.70" y1="299.93" y2="299.93" stroke="#222" stroke-width="1.3"/>
<text class="yl" transform="translate(230.70 303.53) scale(1 1.03)">don</text>
<rect x="241.36" y="305.06" width="25.13" height="8.70" fill="#FF3FC6"/>
<line x1="232.90" x2="235.70" y1="309.41" y2="309.41" stroke="#222" stroke-width="1.3"/>
<text class="yl" transform="translate(230.70 313.01) scale(1 1.03)">continue</text>
<rect x="241.36" y="314.54" width="24.84" height="8.70" fill="#FF3FC6"/>
<line x1="232.90" x2="235.70" y1="318.89" y2="318.89" stroke="#222" stroke-width="1.3"/>
<text class="yl" transform="translate(230.70 322.49) scale(1 1.03)">good</text>
<rect x="241.36" y="324.02" width="21.39" height="8.70" fill="#FF3FC6"/>
<line x1="232.90" x2="235.70" y1="328.37" y2="328.37" stroke="#222" stroke-width="1.3"/>
<text class="yl" transform="translate(230.70 331.97) scale(1 1.03)">budget</text>
<rect x="241.36" y="333.50" width="17.94" height="8.70" fill="#FF3FC6"/>
<line x1="232.90" x2="235.70" y1="337.85" y2="337.85" stroke="#222" stroke-width="1.3"/>
<text class="yl" transform="translate(230.70 341.45) scale(1 1.03)">peace</text>
<rect x="241.36" y="342.98" width="15.35" height="8.70" fill="#FF3FC6"/>
<line x1="232.90" x2="235.70" y1="347.33" y2="347.33" stroke="#222" stroke-width="1.3"/>
<text class="yl" transform="translate(230.70 350.93) scale(1 1.03)">assembly</text>
<rect x="241.36" y="352.46" width="14.78" height="8.70" fill="#FF3FC6"/>
<line x1="232.90" x2="235.70" y1="356.81" y2="356.81" stroke="#222" stroke-width="1.3"/>
<text class="yl" transform="translate(230.70 360.41) scale(1 1.03)">system</text>
<clipPath id="c7"><rect x="235.20" y="265.75" width="123.10" height="96.15"/></clipPath><g clip-path="url(#c7)">
<text class="v" transform="translate(331.91 275.39) scale(1 1.02)">325</text>
<text class="v" transform="translate(312.36 284.87) scale(1 1.02)">257</text>
<text class="v" transform="translate(283.03 294.35) scale(1 1.02)">155</text>
<text class="v w" transform="translate(265.03 303.83) scale(1 1.06)">91</text>
<text class="v w" transform="translate(263.59 313.31) scale(1 1.06)">86</text>
<text class="v w" transform="translate(263.30 322.79) scale(1 1.06)">85</text>
<text class="v w" transform="translate(259.85 332.27) scale(1 1.06)">73</text>
<text class="v w" transform="translate(256.40 341.75) scale(1 1.06)">61</text>
<text class="v w" transform="translate(253.82 351.23) scale(1 1.06)">52</text>
<text class="v w" transform="translate(253.24 360.71) scale(1 1.06)">50</text>
</g>
<text class="st" transform="translate(297.10 260.22) scale(1 1.03)">trust</text>
<line x1="241.76" x2="241.76" y1="361.9" y2="364.59999999999997" stroke="#222" stroke-width="1.2"/>
<text class="xl" transform="translate(241.76 373.70) scale(1 1.03)">0</text>
<line x1="270.52" x2="270.52" y1="361.9" y2="364.59999999999997" stroke="#222" stroke-width="1.2"/>
<text class="xl" transform="translate(270.52 373.70) scale(1 1.03)">100</text>
<line x1="299.27" x2="299.27" y1="361.9" y2="364.59999999999997" stroke="#222" stroke-width="1.2"/>
<text class="xl" transform="translate(299.27 373.70) scale(1 1.03)">200</text>
<line x1="328.02" x2="328.02" y1="361.9" y2="364.59999999999997" stroke="#222" stroke-width="1.2"/>
<text class="xl" transform="translate(328.02 373.70) scale(1 1.03)">300</text>
<line x1="356.77" x2="356.77" y1="361.9" y2="364.59999999999997" stroke="#222" stroke-width="1.2"/>
<text class="xl" transform="translate(356.77 373.70) scale(1 1.03)">400</text>
</g>
</svg></body></html>
